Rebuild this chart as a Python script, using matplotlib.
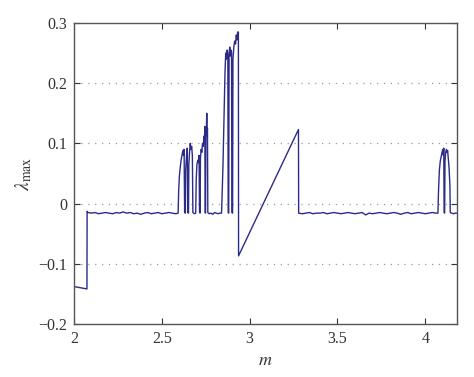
import numpy as np
import matplotlib
matplotlib.use("Agg")
from matplotlib import pyplot as plt

# --- data (m, lambda_max) ---
low_m = [2.000, 2.074]
low_lam = [-0.138, -0.142]

flat1_m = [2.075, 2.08, 2.10, 2.12, 2.14, 2.16, 2.18, 2.20, 2.22, 2.24, 2.26,
           2.28, 2.30, 2.32, 2.34, 2.36, 2.38, 2.40, 2.42, 2.44, 2.46, 2.48,
           2.50, 2.52, 2.54, 2.56, 2.58]
flat1_lam = [-0.013, -0.015, -0.016, -0.015, -0.017, -0.016, -0.015, -0.016,
             -0.017, -0.015, -0.016, -0.014, -0.016, -0.015, -0.017, -0.016,
             -0.018, -0.016, -0.015, -0.017, -0.016, -0.015, -0.017, -0.016,
             -0.015, -0.016, -0.017]

burst1_m = [2.593, 2.596, 2.600, 2.605, 2.610, 2.615, 2.620, 2.624, 2.627,
            2.630, 2.634, 2.636, 2.641, 2.645, 2.648, 2.652, 2.654, 2.658,
            2.662, 2.666, 2.670, 2.674, 2.677, 2.685, 2.693]
burst1_lam = [-0.016, 0.020, 0.045, 0.060, 0.072, 0.080, 0.088, 0.080, 0.090,
              -0.015, -0.016, 0.055, 0.080, 0.092, -0.015, -0.016, 0.065, 0.085,
              0.100, 0.090, 0.095, 0.080, -0.015, -0.017, -0.016]

burst2_m = [2.696, 2.700, 2.705, 2.709, 2.712, 2.715, 2.718, 2.720, 2.724,
            2.728, 2.732, 2.736, 2.740, 2.743, 2.745, 2.747, 2.749, 2.751,
            2.754, 2.756, 2.758, 2.760, 2.762]
burst2_lam = [0.040, 0.065, 0.072, 0.068, 0.080, -0.015, -0.016, 0.075, 0.090,
              0.085, 0.100, 0.095, 0.112, 0.105, 0.128, -0.015, -0.016, 0.105,
              0.125, 0.150, 0.118, 0.125, -0.015]

flat2_m = [2.77, 2.78, 2.79, 2.80, 2.81, 2.82, 2.83, 2.84]
flat2_lam = [-0.017, -0.016, -0.018, -0.015, -0.016, -0.017, -0.016, -0.016]

burst3_m = [2.842, 2.848, 2.855, 2.860, 2.864, 2.868, 2.872, 2.876, 2.878,
            2.881, 2.883, 2.887, 2.890, 2.894, 2.897, 2.899, 2.903, 2.905,
            2.910, 2.915, 2.920, 2.924, 2.928, 2.932, 2.936]
burst3_lam = [0.000, 0.060, 0.150, 0.220, 0.250, 0.240, 0.255, 0.245, -0.015,
              -0.016, 0.250, 0.260, 0.245, 0.255, 0.250, -0.015, -0.016, 0.240,
              0.260, 0.270, 0.265, 0.280, 0.272, 0.285, 0.285]

ramp_m = [2.937, 3.278]
ramp_lam = [-0.087, 0.123]

flat3_m = [3.279, 3.30, 3.32, 3.34, 3.36, 3.38, 3.40, 3.42, 3.44, 3.46, 3.48,
           3.50, 3.52, 3.54, 3.56, 3.58, 3.60, 3.62, 3.64, 3.66, 3.68, 3.70,
           3.72, 3.74, 3.76, 3.78, 3.80, 3.82, 3.84, 3.86, 3.88, 3.90, 3.92,
           3.94, 3.96, 3.98, 4.00, 4.02, 4.04, 4.06, 4.072]
flat3_lam = [-0.016, -0.017, -0.016, -0.015, -0.017, -0.016, -0.016, -0.015,
             -0.017, -0.016, -0.015, -0.016, -0.017, -0.016, -0.015, -0.016,
             -0.017, -0.016, -0.015, -0.019, -0.016, -0.017, -0.016, -0.015,
             -0.016, -0.017, -0.016, -0.015, -0.016, -0.018, -0.016, -0.015,
             -0.017, -0.016, -0.015, -0.016, -0.017, -0.016, -0.015, -0.016,
             -0.016]

burst4_m = [4.075, 4.080, 4.085, 4.090, 4.095, 4.100, 4.103, 4.105, 4.107,
            4.110, 4.112, 4.116, 4.120, 4.124, 4.127, 4.130, 4.135, 4.140,
            4.142, 4.150, 4.160, 4.170, 4.180]
burst4_lam = [0.020, 0.055, 0.070, 0.078, 0.085, 0.090, 0.080, 0.092, -0.015,
              -0.016, 0.070, 0.085, 0.090, 0.085, 0.088, 0.078, 0.060, 0.030,
              -0.015, -0.016, -0.017, -0.016, -0.016]

m = np.concatenate([low_m, flat1_m, burst1_m, burst2_m, flat2_m, burst3_m,
                    ramp_m, flat3_m, burst4_m])
lam = np.concatenate([low_lam, flat1_lam, burst1_lam, burst2_lam, flat2_lam,
                      burst3_lam, ramp_lam, flat3_lam, burst4_lam])

x_ticks = [2, 2.5, 3, 3.5, 4]
x_labels = ["2", "2.5", "3", "3.5", "4"]
y_ticks = [-0.2, -0.1, 0, 0.1, 0.2, 0.3]
y_labels = ["\u22120.2", "\u22120.1", "0", "0.1", "0.2", "0.3"]

plt.rcParams["font.family"] = ["Liberation Serif", "DejaVu Serif"]
plt.rcParams["mathtext.fontset"] = "stix"

fig = plt.figure(figsize=(4.74, 3.77), dpi=100)
ax = fig.add_axes([0.156, 0.141, 0.808, 0.798])

# dotted horizontal grid only at inner y ticks
for yv in [-0.1, 0, 0.1, 0.2]:
    ax.axhline(yv, color="#9a9a9a", lw=0.9, ls=(0, (1, 4.5)), zorder=1)

ax.plot(m, lam, color="#2c2c88", lw=1.0, zorder=2)

ax.set_xlim(2, 4.18)
ax.set_ylim(-0.2, 0.3)
ax.set_xticks(x_ticks)
ax.set_xticklabels(x_labels)
ax.set_yticks(y_ticks)
ax.set_yticklabels(y_labels)
ax.tick_params(direction="in", length=4, width=0.8, top=True, right=True,
               labelsize=11.5, colors="#333333", pad=5)
for sp in ax.spines.values():
    sp.set_color("#555555")
    sp.set_linewidth(1.0)

ax.set_xlabel("$m$", fontsize=13, color="#333333", labelpad=4)
ax.set_ylabel(r"$\lambda_{\mathrm{max}}$", fontsize=14, color="#333333",
              labelpad=3)

fig.savefig("out.png", dpi=100)
